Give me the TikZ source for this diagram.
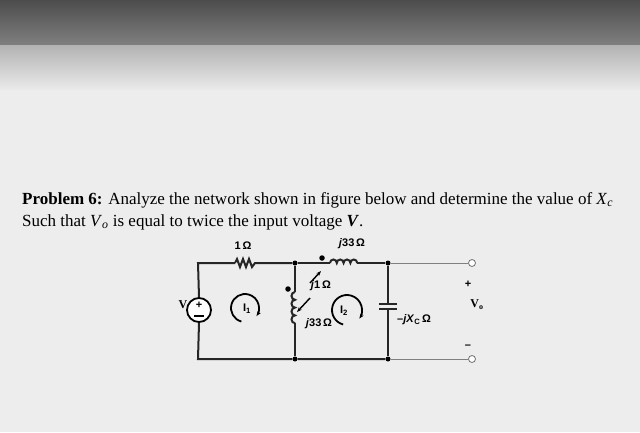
\documentclass[tikz,border=0pt]{standalone}
\usepackage{fontspec}
\setmainfont{Liberation Serif}
\newfontfamily\arialf{Liberation Sans}
\usetikzlibrary{arrows.meta}
\begin{document}
\begin{tikzpicture}[x=1pt,y=-1pt,
  wire/.style={line width=2pt,black!85},
  lbl/.style={font=\arialf\bfseries\fontsize{11}{12}\selectfont,inner sep=0pt},
  term/.style={circle,draw=black!55,line width=0.8pt,fill=white,inner sep=0pt,minimum size=7pt},
  jn/.style={circle,fill=black,inner sep=0pt,minimum size=5pt},
  loopa/.style={line width=1.8pt,-{Stealth[length=5pt]}}]
\useasboundingbox (0,0) rectangle (640,432);
\shade[top color=black!70,bottom color=black!50] (0,0) rectangle (640,45);
\shade[top color=black!30,bottom color=black!8] (0,45) rectangle (640,90);
\fill[black!7] (0,90) rectangle (640,432);
% text
\node[anchor=west,inner sep=0pt,font=\fontsize{17}{19}\selectfont] (t1) at (22,200) {\textbf{Problem 6:} Analyze the network shown in figure below and determine the value of \textit{X}\textsubscript{\textit{c}}};
\node[anchor=west,inner sep=0pt,font=\fontsize{17}{19}\selectfont] (t2) at (22,222) {Such that \textit{V}\textsubscript{\textit{o}} is equal to twice the input voltage \textbf{\textit{V}}.};
% nodes
\coordinate (tl) at (198,263); \coordinate (bl) at (198,359);
\node[jn] (n1) at (295,263) {}; \node[jn] (n1b) at (295,359) {};
\node[jn] (n2) at (388,263) {}; \node[jn] (n2b) at (388,359) {};
\node[term] (o1) at (472,263) {}; \node[term] (o2) at (472,359) {};
\node[circle,draw,line width=1.8pt,fill=white,minimum size=24pt,inner sep=0pt] (src) at (199,310) {};
\node[font=\arialf\bfseries\fontsize{11}{11}\selectfont,inner sep=0pt] at (199,305) {+};
\draw[line width=1.3pt] (194,316) -- (204,316);
% left branch
\draw[wire] (src.north) -- (tl) -- (235,263);
\draw[wire] (235,263) -- (237,259) -- (240,267) -- (243,259) -- (246,267) -- (249,259) -- (252,267) -- (255,263) -- (n1);
\draw[wire] (src.south) -- (bl) -- (n1b) -- (n2b);
\draw[line width=0.7pt,black!50] (n2b) -- (o2);
\draw[line width=0.7pt,black!50] (n2) -- (o1);
% middle vertical inductor
\draw[wire] (n1) -- (295,292);
\draw[wire] (295,292) \foreach \k in {0,...,3}{ arc[start angle=90,end angle=270,x radius=3.5pt,y radius=3.9pt] } ;
\draw[wire] (295,323) -- (n1b);
\node[jn,minimum size=5.5pt] (d1) at (288,289) {};
% top inductor
\draw[wire] (n1) -- (330,263);
\draw[wire] (330,263) \foreach \k in {0,...,3}{ arc[start angle=180,end angle=0,x radius=3.4pt,y radius=3.5pt] };
\draw[wire] (357,263) -- (n2);
\node[jn,minimum size=5.5pt] (d2) at (322,258) {};
% coupling arrows
\draw[line width=1.4pt,-{Stealth[length=5pt]}] (310,298) -- (297,312);
\draw[line width=1.4pt,-{Stealth[length=5pt]}] (310,283) -- (321,271);
% capacitor
\draw[wire] (n2) -- (388,304); \draw[wire] (388,309) -- (n2b);
\draw[wire] (379,304) -- (397,304); \draw[wire] (379,309) -- (397,309);
% loops
\draw[loopa] (245,308) ++(105:14) arc[start angle=105,end angle=395,radius=14];
\draw[loopa] (347,310) ++(105:15) arc[start angle=105,end angle=395,radius=15];
% labels
\node[lbl] at (243,246) {1\,Ω};
\node[lbl] at (352,244) {\textit{j}33\,Ω};
\node[lbl] at (321,286) {\textit{j}1\,Ω};
\node[lbl] at (319,324) {\textit{j}33\,Ω};
\node[lbl,anchor=west] at (397,320) {\textendash\textit{jX}\textsubscript{C}\,Ω};
\node[lbl] at (247,309) {I\textsubscript{1}};
\node[lbl] at (344,311) {I\textsubscript{2}};
\node[lbl,font=\bfseries\fontsize{12}{12}\selectfont] at (183,305) {V};
\node[lbl,font=\bfseries\fontsize{12}{12}\selectfont] at (477,305) {V\textsubscript{o}};
\node[lbl] at (468,284) {+};
\node[lbl] at (468,347) {\textendash};
\end{tikzpicture}
\end{document}
